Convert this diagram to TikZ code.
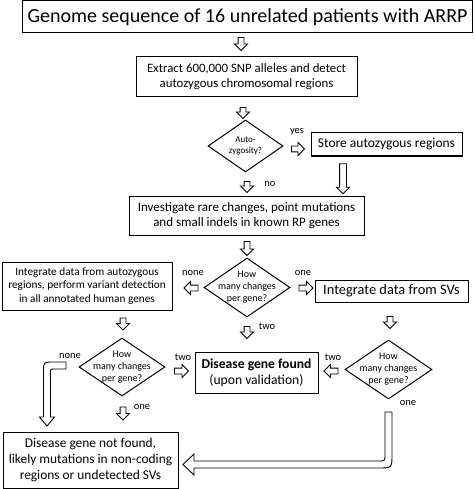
\documentclass[tikz,border=0pt]{standalone}
\usepackage{fontspec}
\setmainfont{Carlito}
\usetikzlibrary{shapes.geometric,shapes.arrows}
\begin{document}
\begin{tikzpicture}[x=1pt,y=-1pt,
  box/.style={draw, line width=1pt, align=center, inner sep=0pt},
  dia/.style={draw, diamond, line width=1pt, inner sep=0pt},
  dtext/.style={align=center, inner sep=0pt, font=\fontsize{10}{12}\selectfont},
  lbl/.style={inner sep=0pt, font=\fontsize{10.5}{12}\selectfont},
  barrow/.style={single arrow, draw, line width=0.9pt, inner sep=2.5pt, minimum width=0pt,
     single arrow head extend=3.5pt, single arrow tip angle=90, minimum height=12pt},
  bent/.style={draw, line width=0.9pt, fill=white}
]
\useasboundingbox (0,0) rectangle (474,489);
\fill[white] (0,0) rectangle (474,489);

% boxes
\node[box, minimum width=450pt, minimum height=32pt, font=\fontsize{20}{23}\selectfont] (b1) at (247.5,17) {Genome sequence of 16 unrelated patients with ARRP};
\node[box, minimum width=221pt, minimum height=40pt, font=\fontsize{12.8}{15}\selectfont] (b2) at (246.5,77) {Extract 600,000 SNP alleles and detect\\autozygous chromosomal regions};
\node[dia, minimum width=75pt, minimum height=52pt] (d1) at (245.5,146) {};
\node[dtext, font=\fontsize{9}{11.5}\selectfont] (d1t) at (d1.center) {Auto-\\zygosity?};
\node[box, minimum width=151pt, minimum height=23pt, font=\fontsize{13.5}{16}\selectfont] (store) at (386.5,144.5) {Store autozygous regions};
\node[box, minimum width=235pt, minimum height=39pt, font=\fontsize{13}{15.5}\selectfont] (inv) at (246.5,215.5) {Investigate rare changes, point mutations\\and small indels in known RP genes};
\node[dia, minimum width=86pt, minimum height=59pt] (d2) at (247,287.5) {};
\node[dtext] (d2t) at (d2.center) {How\\many changes\\per gene?};
\node[box, minimum width=170pt, minimum height=48pt, font=\fontsize{11.3}{13.5}\selectfont] (intA) at (87,286) {Integrate data from autozygous\\regions, perform variant detection\\in all annotated human genes};
\node[box, minimum width=153pt, minimum height=22pt, font=\fontsize{14.4}{17}\selectfont] (intS) at (391.5,291) {Integrate data from SVs};
\node[dia, minimum width=86pt, minimum height=58pt] (d3) at (122,367) {};
\node[dtext] (d3t) at (d3.center) {How\\many changes\\per gene?};
\node[box, minimum width=123pt, minimum height=41pt, font=\fontsize{13.6}{16}\selectfont] (found) at (256.5,372.5) {\textbf{Disease gene found}\\(upon validation)};
\node[dia, minimum width=87pt, minimum height=59pt] (d4) at (388.5,369.5) {};
\node[dtext] (d4t) at (d4.center) {How\\many changes\\per gene?};
\node[box, minimum width=175pt, minimum height=56pt, font=\fontsize{13.4}{16}\selectfont] (nf) at (90.5,460) {Disease gene not found,\\likely mutations in non-coding\\regions or undetected SVs};

% block arrows
\node[barrow, rotate=-90, minimum height=13pt] (a1) at (241,42.5) {};
\node[barrow, rotate=-90, minimum height=11pt] (a2) at (243,111.5) {};
\node[barrow, minimum height=13pt] (a3) at (296.5,149) {};
\node[barrow, rotate=-90, minimum height=30pt, inner sep=3pt, single arrow head extend=3pt] (a4) at (343,177) {};
\node[barrow, rotate=-90, minimum height=11pt] (a5) at (247,185.5) {};
\node[barrow, rotate=-90, minimum height=14pt] (a6) at (247,247) {};
\node[barrow, rotate=180, minimum height=14pt] (a7) at (192.5,288) {};
\node[barrow, minimum height=14pt] (a8) at (304.5,288) {};
\node[barrow, rotate=-90] (a9) at (123,322.5) {};
\node[barrow, rotate=-90] (a10) at (247,331) {};
\node[barrow, rotate=-90] (a11) at (390,321) {};
\node[barrow, minimum height=14pt] (a12) at (180,371) {};
\node[barrow, rotate=180, minimum height=14pt] (a13) at (332.5,371) {};
\node[barrow, rotate=-90, minimum height=13pt] (a14) at (123,412) {};

% bent arrows
\draw[bent] (66,362) -- (53.5,362) .. controls (43.5,362) .. (43.5,372) -- (43.5,417) -- (39.5,417) -- (47,426) -- (54.5,417) -- (50.5,417) -- (50.5,373) .. controls (50.5,369) .. (54.5,369) -- (66,369) -- cycle;
\draw[bent] (385,412) -- (392,412) -- (392,454) .. controls (392,468) .. (378,468) -- (194,468) -- (194,475) -- (183,464.5) -- (194,454) -- (194,461) -- (378,461) .. controls (385,461) .. (385,454) -- cycle;

% labels
\node[lbl] (lyes) at (297,132) {yes};
\node[lbl] (lno) at (270,184) {no};
\node[lbl] (lnone1) at (193,273) {none};
\node[lbl] (lone1) at (303,273) {one};
\node[lbl] (ltwo1) at (267,326) {two};
\node[lbl] (lnone2) at (70,356) {none};
\node[lbl] (ltwo2) at (183,357) {two};
\node[lbl] (ltwo3) at (333,357) {two};
\node[lbl] (lone2) at (408,403) {one};
\node[lbl] (lone3) at (142,407) {one};
\end{tikzpicture}
\end{document}
